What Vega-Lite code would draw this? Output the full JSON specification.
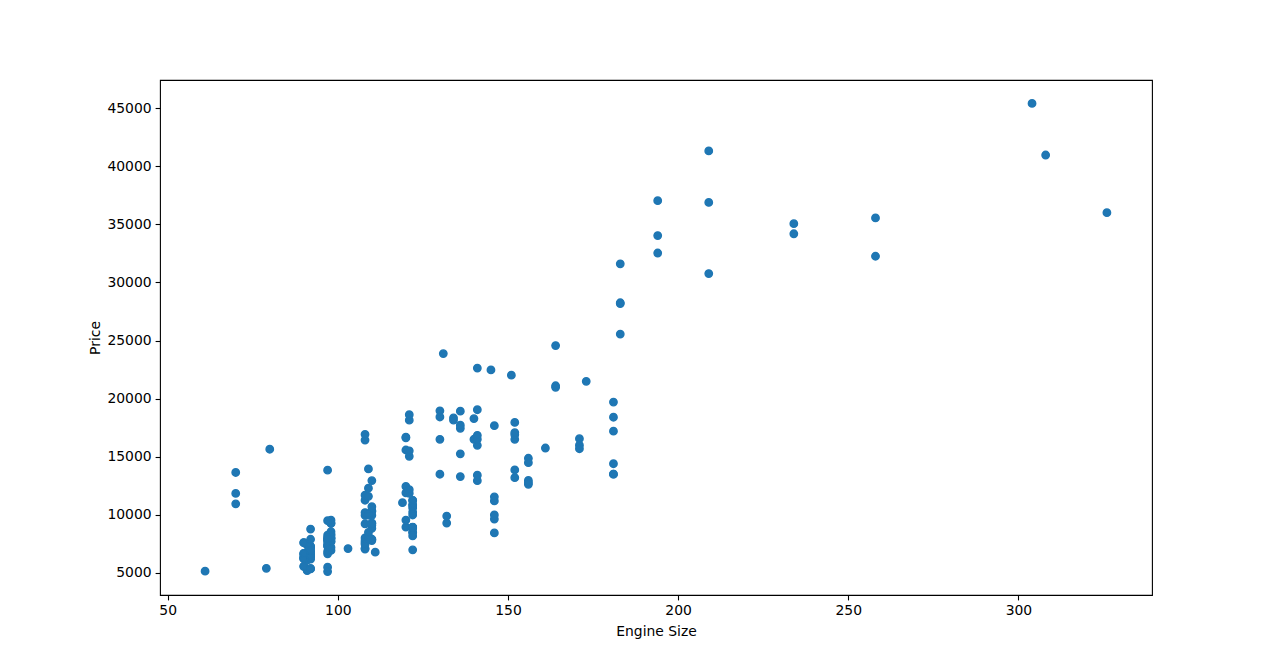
{
  "$schema": "https://vega.github.io/schema/vega-lite/v6.json",
  "width": 992,
  "height": 515,
  "autosize": {"type": "none"},
  "padding": {"left": 160, "top": 80, "right": 128, "bottom": 74},
  "background": "white",
  "config": {
    "view": {"stroke": "black", "strokeWidth": 1.1},
    "axis": {
      "grid": false,
      "domain": false,
      "tickColor": "black",
      "tickSize": 4.9,
      "tickWidth": 1.1,
      "labelFont": "DejaVu Sans",
      "labelFontSize": 13.9,
      "labelColor": "black",
      "labelPadding": 4,
      "titleFont": "DejaVu Sans",
      "titleFontSize": 13.9,
      "titleFontWeight": "normal",
      "titleColor": "black"
    }
  },
  "data": {
    "values": [
      {"engine": 130, "price": 13495}, {"engine": 130, "price": 16500}, {"engine": 152, "price": 16500},
      {"engine": 109, "price": 13950}, {"engine": 136, "price": 17450}, {"engine": 136, "price": 15250},
      {"engine": 136, "price": 17710}, {"engine": 136, "price": 18920}, {"engine": 131, "price": 23875},
      {"engine": 108, "price": 16430}, {"engine": 108, "price": 16925}, {"engine": 164, "price": 20970},
      {"engine": 164, "price": 21105}, {"engine": 164, "price": 24565}, {"engine": 209, "price": 30760},
      {"engine": 209, "price": 41315}, {"engine": 209, "price": 36880}, {"engine": 61, "price": 5151},
      {"engine": 90, "price": 6295}, {"engine": 90, "price": 6575}, {"engine": 90, "price": 5572},
      {"engine": 90, "price": 6377}, {"engine": 98, "price": 7957}, {"engine": 90, "price": 6229},
      {"engine": 90, "price": 6692}, {"engine": 90, "price": 7609}, {"engine": 98, "price": 8558},
      {"engine": 122, "price": 8921}, {"engine": 156, "price": 12964}, {"engine": 92, "price": 6479},
      {"engine": 92, "price": 6855}, {"engine": 79, "price": 5399}, {"engine": 92, "price": 6529},
      {"engine": 92, "price": 7129}, {"engine": 92, "price": 7295}, {"engine": 92, "price": 7295},
      {"engine": 110, "price": 7895}, {"engine": 110, "price": 9095}, {"engine": 110, "price": 8845},
      {"engine": 110, "price": 10295}, {"engine": 110, "price": 12945}, {"engine": 110, "price": 10345},
      {"engine": 111, "price": 6785}, {"engine": 119, "price": 11048}, {"engine": 258, "price": 32250},
      {"engine": 258, "price": 35550}, {"engine": 326, "price": 36000}, {"engine": 91, "price": 5195},
      {"engine": 91, "price": 6095}, {"engine": 91, "price": 6795}, {"engine": 91, "price": 6695},
      {"engine": 91, "price": 7395}, {"engine": 70, "price": 10945}, {"engine": 70, "price": 11845},
      {"engine": 70, "price": 13645}, {"engine": 80, "price": 15645}, {"engine": 122, "price": 8845},
      {"engine": 122, "price": 8495}, {"engine": 122, "price": 10595}, {"engine": 122, "price": 10245},
      {"engine": 122, "price": 10795}, {"engine": 122, "price": 11245}, {"engine": 140, "price": 18280},
      {"engine": 134, "price": 18344}, {"engine": 183, "price": 25552}, {"engine": 183, "price": 28248},
      {"engine": 183, "price": 28176}, {"engine": 183, "price": 31600}, {"engine": 234, "price": 34184},
      {"engine": 234, "price": 35056}, {"engine": 308, "price": 40960}, {"engine": 304, "price": 45400},
      {"engine": 140, "price": 16503}, {"engine": 92, "price": 5389}, {"engine": 92, "price": 6189},
      {"engine": 92, "price": 6669}, {"engine": 98, "price": 7689}, {"engine": 110, "price": 9959},
      {"engine": 122, "price": 8499}, {"engine": 156, "price": 12629}, {"engine": 156, "price": 14869},
      {"engine": 156, "price": 14489}, {"engine": 122, "price": 6989}, {"engine": 122, "price": 8189},
      {"engine": 110, "price": 9279}, {"engine": 110, "price": 9279}, {"engine": 97, "price": 5499},
      {"engine": 103, "price": 7099}, {"engine": 97, "price": 6649}, {"engine": 97, "price": 6849},
      {"engine": 97, "price": 7349}, {"engine": 97, "price": 7299}, {"engine": 97, "price": 7799},
      {"engine": 97, "price": 7499}, {"engine": 97, "price": 7999}, {"engine": 97, "price": 8249},
      {"engine": 120, "price": 8949}, {"engine": 120, "price": 9549}, {"engine": 181, "price": 13499},
      {"engine": 181, "price": 14399}, {"engine": 181, "price": 13499}, {"engine": 181, "price": 17199},
      {"engine": 181, "price": 19699}, {"engine": 181, "price": 18399}, {"engine": 120, "price": 11900},
      {"engine": 152, "price": 13200}, {"engine": 120, "price": 12440}, {"engine": 152, "price": 13860},
      {"engine": 120, "price": 15580}, {"engine": 152, "price": 16900}, {"engine": 120, "price": 16695},
      {"engine": 152, "price": 17075}, {"engine": 120, "price": 16630}, {"engine": 152, "price": 17950},
      {"engine": 134, "price": 18150}, {"engine": 90, "price": 5572}, {"engine": 98, "price": 7957},
      {"engine": 90, "price": 6229}, {"engine": 90, "price": 6692}, {"engine": 90, "price": 7609},
      {"engine": 122, "price": 8921}, {"engine": 156, "price": 12764}, {"engine": 151, "price": 22018},
      {"engine": 194, "price": 32528}, {"engine": 194, "price": 34028}, {"engine": 194, "price": 37028},
      {"engine": 132, "price": 9295}, {"engine": 132, "price": 9895}, {"engine": 121, "price": 11850},
      {"engine": 121, "price": 12170}, {"engine": 121, "price": 15040}, {"engine": 121, "price": 15510},
      {"engine": 121, "price": 18150}, {"engine": 121, "price": 18620}, {"engine": 97, "price": 5118},
      {"engine": 108, "price": 7053}, {"engine": 108, "price": 7603}, {"engine": 108, "price": 7126},
      {"engine": 108, "price": 7775}, {"engine": 108, "price": 9960}, {"engine": 108, "price": 9233},
      {"engine": 108, "price": 11259}, {"engine": 108, "price": 7463}, {"engine": 108, "price": 10198},
      {"engine": 108, "price": 8013}, {"engine": 108, "price": 11694}, {"engine": 92, "price": 5348},
      {"engine": 92, "price": 6338}, {"engine": 92, "price": 6488}, {"engine": 92, "price": 6918},
      {"engine": 92, "price": 7898}, {"engine": 92, "price": 8778}, {"engine": 98, "price": 6938},
      {"engine": 98, "price": 7198}, {"engine": 110, "price": 7898}, {"engine": 110, "price": 7788},
      {"engine": 98, "price": 7738}, {"engine": 98, "price": 8358}, {"engine": 98, "price": 9258},
      {"engine": 98, "price": 8058}, {"engine": 98, "price": 8238}, {"engine": 98, "price": 9298},
      {"engine": 98, "price": 9538}, {"engine": 146, "price": 8449}, {"engine": 146, "price": 9639},
      {"engine": 146, "price": 9989}, {"engine": 146, "price": 11199}, {"engine": 146, "price": 11549},
      {"engine": 146, "price": 17669}, {"engine": 122, "price": 8948}, {"engine": 110, "price": 10698},
      {"engine": 122, "price": 9988}, {"engine": 122, "price": 10898}, {"engine": 122, "price": 11248},
      {"engine": 171, "price": 16558}, {"engine": 171, "price": 15998}, {"engine": 171, "price": 15690},
      {"engine": 161, "price": 15750}, {"engine": 97, "price": 7775}, {"engine": 109, "price": 7975},
      {"engine": 97, "price": 7995}, {"engine": 109, "price": 8195}, {"engine": 109, "price": 8495},
      {"engine": 97, "price": 9495}, {"engine": 109, "price": 9995}, {"engine": 109, "price": 11595},
      {"engine": 109, "price": 9980}, {"engine": 136, "price": 13295}, {"engine": 97, "price": 13845},
      {"engine": 109, "price": 12290}, {"engine": 141, "price": 12940}, {"engine": 141, "price": 13415},
      {"engine": 141, "price": 15985}, {"engine": 141, "price": 16515}, {"engine": 130, "price": 18420},
      {"engine": 130, "price": 18950}, {"engine": 141, "price": 16845}, {"engine": 141, "price": 19045},
      {"engine": 173, "price": 21485}, {"engine": 145, "price": 22470}, {"engine": 141, "price": 22625}
    ]
  },
  "mark": {"type": "point", "shape": "circle", "size": 55, "fill": "#1f77b4", "stroke": "#1f77b4", "strokeWidth": 1.4, "opacity": 1, "fillOpacity": 1, "strokeOpacity": 1},
  "encoding": {
    "x": {
      "field": "engine",
      "type": "quantitative",
      "scale": {"domain": [47.75, 339.25], "nice": false, "zero": false},
      "axis": {"title": "Engine Size", "values": [50, 100, 150, 200, 250, 300], "titlePadding": 7}
    },
    "y": {
      "field": "price",
      "type": "quantitative",
      "scale": {"domain": [3104, 47414], "nice": false, "zero": false},
      "axis": {"title": "Price", "values": [5000, 10000, 15000, 20000, 25000, 30000, 35000, 40000, 45000], "format": "d", "titlePadding": 4}
    }
  }
}
